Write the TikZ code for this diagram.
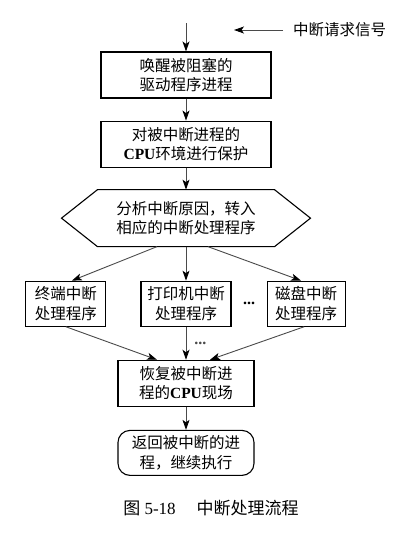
\documentclass[tikz,border=0pt]{standalone}
\usepackage{fontspec}
\setmainfont{Liberation Serif}
\newfontfamily\cjk{Noto Sans CJK SC}
\usetikzlibrary{
  arrows.meta,
  positioning,
  calc
}
\definecolor{fcLine}{HTML}{4A4A4A}
\tikzset{
  fcnode/.style={
    draw=black, line width=1.1pt, minimum height=46pt, inner sep=2pt,
    font=\fontsize{15.5}{19.5}\selectfont\cjk, align=center
  },
  fcbox/.style={fcnode},
  fcend/.style={fcnode, rounded corners=12pt},
  fchex/.style={fcnode, draw=none, minimum width=249pt, minimum height=57pt, outer sep=0pt},
  fcedge/.style={draw=black, line width=1.1pt},
  flow/.style={-{Stealth[length=10pt, width=7pt, inset=2.5pt, color=black]}, line width=0.9pt, fcLine},
  tag/.style={font=\fontsize{15.5}{19.5}\selectfont\cjk, inner sep=0pt},
  dotsnode/.style={font=\fontsize{16}{18}\selectfont\bfseries, inner sep=1pt},
  caption/.style={font=\fontsize{17}{20}\selectfont, inner sep=0pt}
}

\begin{document}
\begin{tikzpicture}[x=1pt, y=-1pt, node distance=22pt]
  \useasboundingbox (0,0) rectangle (401,539);
  \coordinate (top) at (186,23);
  \coordinate (sigtip) at (234,30);
  \node[tag, anchor=west] (sig) at (293,30) {中断请求信号};
  \node[fcbox, minimum width=170pt] (wake) at (186,75) {唤醒被阻塞的\\驱动程序进程};
  \node[fcbox, minimum width=170pt, below=of wake] (save) {对被中断进程的\\{\rmfamily\bfseries CPU}环境进行保护};
  \node[fchex, below=of save] (cause) {分析中断原因，转入\\相应的中断处理程序};
  \draw[fcedge] (cause.west) -- ([xshift=36pt]cause.north west) -- ([xshift=-36pt]cause.north east)
    -- (cause.east) -- ([xshift=-36pt]cause.south east) -- ([xshift=36pt]cause.south west) -- cycle;
  \node[fcbox, minimum width=90pt, minimum height=45pt, below=34pt of cause] (print) {打印机中断\\处理程序};
  \node[fcbox, minimum width=80pt, minimum height=45pt, left=34pt of print] (term) {终端中断\\处理程序};
  \node[fcbox, minimum width=78pt, minimum height=45pt, right=35pt of print] (disk) {磁盘中断\\处理程序};
  \node[dotsnode] (gap) at ($(print.east)!0.5!(disk.west)$) {...};
  \node[fcbox, minimum width=136pt, below=33pt of print] (rest) {恢复被中断进\\程的{\rmfamily\bfseries CPU}现场};
  \node[fcend, minimum width=136pt, minimum height=45pt, below=23pt of rest] (ret) {返回被中断的进\\程，继续执行};
  \node[caption] (cap) at (211,508) {{\cjk 图} 5-18\hspace{21pt}{\cjk 中断处理流程}};
  \draw[flow] (top) -- (wake);
  \draw[flow, shorten <=10pt] (sig.west) -- (sigtip);
  \draw[flow] (wake) -- (save);
  \draw[flow] (save) -- (cause);
  \draw[flow] ([xshift=-29pt]cause.south) -- ([xshift=6pt]term.north);
  \draw[flow] (cause.south) -- (print);
  \draw[flow] ([xshift=22pt]cause.south) -- ([xshift=-5pt]disk.north);
  \draw[flow] (term.south) -- ([xshift=-29pt]rest.north);
  \draw[flow] (print) -- node[dotsnode, right=7pt] {...} (rest);
  \draw[flow] ([xshift=-2pt]disk.south) -- ([xshift=24pt]rest.north);
  \draw[flow] (rest) -- (ret);
\end{tikzpicture}
\end{document}
